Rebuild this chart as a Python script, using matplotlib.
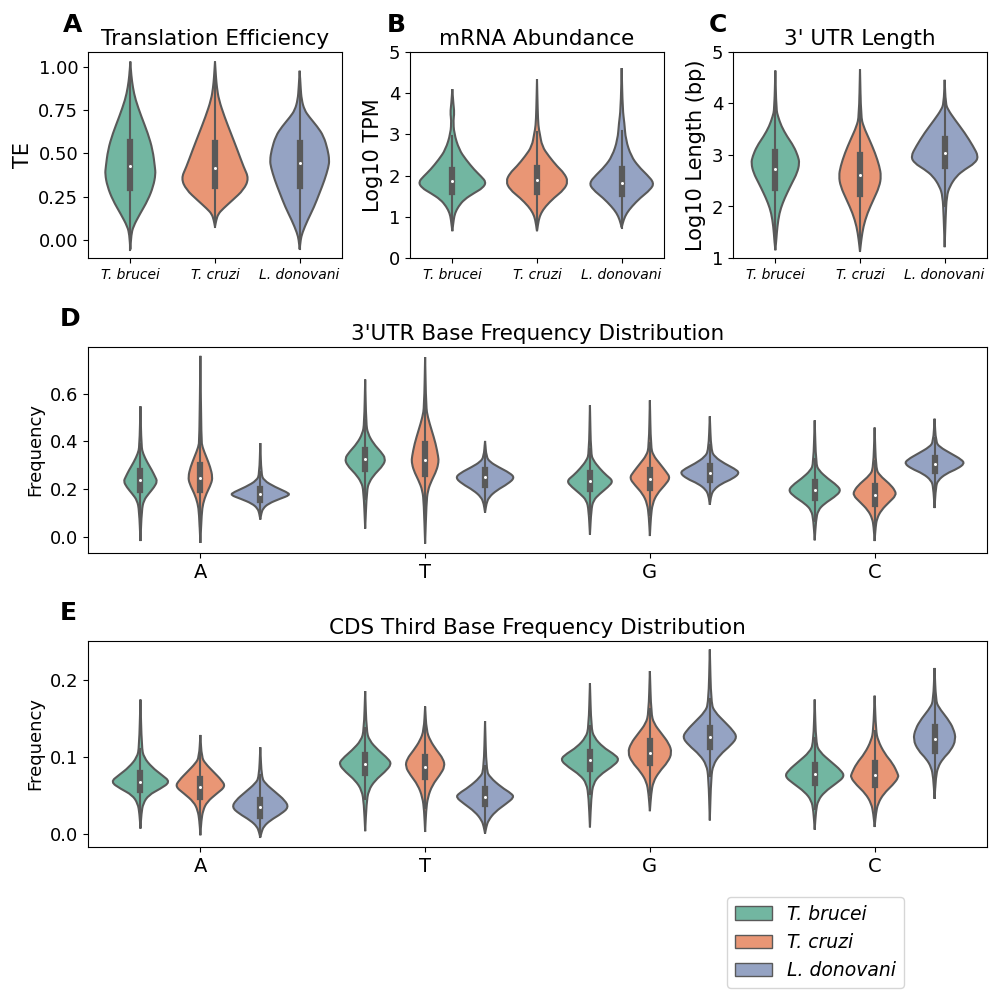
import colorsys
import numpy as np
import matplotlib
matplotlib.use("Agg")
import matplotlib.pyplot as plt
from matplotlib.path import Path
from matplotlib.patches import PathPatch, Patch
from matplotlib.colors import to_rgb, rgb2hex

species = ["T. brucei", "T. cruzi", "L. donovani"]
bases = ["A", "T", "G", "C"]

# violin outlines: levels (top -> bottom) and relative density
# quartiles are [q1, median, q3]

# --- A: translation efficiency
te_levels = [
    [1.03, 0.95, 0.88, 0.81, 0.71, 0.615, 0.52, 0.42, 0.38, 0.31, 0.23, 0.15, 0.077, 0.03, -0.055],
    [1.03, 0.94, 0.88, 0.81, 0.71, 0.615, 0.52, 0.42, 0.355, 0.29, 0.23, 0.18, 0.15, 0.115, 0.077],
    [0.977, 0.88, 0.81, 0.75, 0.71, 0.655, 0.60, 0.52, 0.46, 0.42, 0.346, 0.27, 0.19, 0.115, 0.04, 0.0, -0.054],
]
te_density = [
    [0, 3, 8, 16, 35, 55, 70, 77, 79, 72, 55, 30, 9, 3, 0],
    [0, 3, 6, 12, 30, 50, 70, 90, 106, 90, 55, 25, 10, 4, 0],
    [0, 3, 6, 15, 30, 55, 75, 88, 93, 90, 78, 62, 45, 25, 8, 3, 0],
]
te_quart = [[0.298, 0.429, 0.567], [0.31, 0.413, 0.558], [0.31, 0.442, 0.558]]

# --- B: mRNA abundance
tpm_levels = [
    [4.10, 3.75, 3.52, 3.35, 3.03, 2.63, 2.39, 2.14, 1.98, 1.84, 1.70, 1.58, 1.42, 1.25, 1.09, 0.93, 0.65],
    [4.34, 3.6, 3.2, 3.03, 2.71, 2.47, 2.22, 2.06, 1.86, 1.66, 1.46, 1.25, 1.09, 0.93, 0.65],
    [4.61, 3.6, 3.28, 2.87, 2.47, 2.22, 2.02, 1.82, 1.66, 1.46, 1.25, 1.09, 0.93, 0.74],
]
tpm_density = [
    [0, 3, 6, 3, 5, 20, 40, 65, 85, 100, 90, 65, 35, 18, 8, 4, 0],
    [0, 2, 4, 8, 15, 35, 60, 80, 92, 80, 50, 25, 12, 5, 0],
    [0, 3, 8, 12, 28, 50, 75, 96, 85, 55, 30, 15, 6, 0],
]
tpm_quart = [[1.60, 1.88, 2.14], [1.59, 1.89, 2.18], [1.55, 1.83, 2.16]]

# --- C: 3' UTR length
utr_levels = [
    [4.64, 3.88, 3.75, 3.56, 3.36, 3.17, 2.97, 2.84, 2.65, 2.46, 2.26, 2.07, 1.87, 1.61, 1.36, 1.15],
    [4.66, 3.75, 3.56, 3.30, 3.04, 2.78, 2.59, 2.39, 2.13, 1.87, 1.61, 1.36, 1.13],
    [4.46, 4.0, 3.88, 3.69, 3.43, 3.17, 2.97, 2.84, 2.72, 2.59, 2.39, 2.20, 1.81, 1.21],
]
utr_density = [
    [0, 3, 8, 18, 35, 55, 68, 72, 65, 50, 35, 22, 12, 6, 3, 0],
    [0, 3, 10, 28, 45, 58, 63, 58, 40, 22, 10, 4, 0],
    [0, 3, 10, 30, 60, 85, 101, 90, 60, 35, 15, 6, 3, 0],
]
utr_quart = [[2.36, 2.73, 3.06], [2.24, 2.62, 3.0], [2.79, 3.03, 3.31]]

# --- D: 3'UTR base frequency (order: A x3 species, T x3, G x3, C x3)
utrbase_levels = [
    [0.547, 0.377, 0.349, 0.314, 0.279, 0.251, 0.233, 0.209, 0.181, 0.153, 0.112, -0.017],
    [0.758, 0.405, 0.377, 0.335, 0.293, 0.251, 0.223, 0.181, 0.14, 0.098, -0.025],
    [0.393, 0.265, 0.237, 0.209, 0.188, 0.176, 0.16, 0.14, 0.119, 0.098, 0.073],
    [0.659, 0.474, 0.433, 0.391, 0.356, 0.328, 0.30, 0.265, 0.23, 0.195, 0.035],
    [0.753, 0.544, 0.502, 0.446, 0.391, 0.335, 0.314, 0.279, 0.237, 0.195, 0.14, -0.028],
    [0.402, 0.335, 0.314, 0.293, 0.268, 0.248, 0.223, 0.195, 0.167, 0.14, 0.102],
    [0.551, 0.349, 0.321, 0.286, 0.258, 0.234, 0.209, 0.181, 0.153, 0.112, 0.01],
    [0.572, 0.377, 0.342, 0.307, 0.272, 0.247, 0.216, 0.181, 0.14, 0.084, 0.004],
    [0.505, 0.363, 0.335, 0.307, 0.286, 0.268, 0.244, 0.223, 0.198, 0.174, 0.135],
    [0.488, 0.307, 0.279, 0.244, 0.216, 0.193, 0.167, 0.14, 0.112, 0.07, -0.014],
    [0.458, 0.286, 0.258, 0.223, 0.195, 0.174, 0.147, 0.112, 0.077, 0.042, -0.017],
    [0.495, 0.398, 0.377, 0.349, 0.324, 0.307, 0.286, 0.265, 0.237, 0.209, 0.121],
]
utrbase_density = [
    [0, 3, 8, 20, 35, 45, 51, 42, 25, 10, 4, 0],
    [0, 3, 6, 18, 30, 37, 33, 18, 8, 4, 0],
    [0, 3, 10, 45, 80, 91, 60, 25, 8, 3, 0],
    [0, 3, 8, 25, 48, 62, 55, 30, 12, 5, 0],
    [0, 3, 8, 20, 32, 40, 41, 35, 20, 8, 4, 0],
    [0, 4, 15, 40, 75, 90, 70, 35, 12, 4, 0],
    [0, 3, 10, 30, 50, 71, 55, 30, 10, 4, 0],
    [0, 3, 10, 30, 50, 62, 45, 22, 8, 3, 0],
    [0, 4, 15, 45, 75, 91, 70, 35, 12, 4, 0],
    [0, 4, 12, 40, 68, 80, 60, 30, 10, 4, 0],
    [0, 4, 15, 45, 62, 65, 45, 20, 7, 3, 0],
    [0, 4, 15, 50, 82, 91, 70, 35, 10, 4, 0],
]
utrbase_quart = [
    [0.198, 0.237, 0.275], [0.198, 0.247, 0.30], [0.156, 0.18, 0.202],
    [0.283, 0.327, 0.366], [0.265, 0.324, 0.388], [0.216, 0.25, 0.282],
    [0.20, 0.236, 0.268], [0.204, 0.244, 0.279], [0.237, 0.266, 0.296],
    [0.165, 0.198, 0.23], [0.14, 0.177, 0.212], [0.275, 0.304, 0.331],
]

# --- E: CDS third base frequency
cds_levels = [
    [0.175, 0.113, 0.100, 0.087, 0.077, 0.068, 0.059, 0.051, 0.040, 0.027, 0.0074],
    [0.129, 0.100, 0.092, 0.081, 0.070, 0.062, 0.053, 0.042, 0.031, 0.018, -0.0013],
    [0.113, 0.074, 0.066, 0.055, 0.044, 0.035, 0.027, 0.018, 0.010, 0.003, -0.004],
    [0.186, 0.135, 0.122, 0.109, 0.098, 0.091, 0.081, 0.070, 0.057, 0.040, 0.004],
    [0.166, 0.135, 0.122, 0.109, 0.098, 0.088, 0.077, 0.064, 0.048, 0.031, 0.003],
    [0.147, 0.083, 0.074, 0.061, 0.053, 0.048, 0.040, 0.029, 0.018, 0.010, 0.001],
    [0.196, 0.139, 0.126, 0.113, 0.105, 0.097, 0.087, 0.077, 0.066, 0.048, 0.009],
    [0.212, 0.157, 0.144, 0.131, 0.118, 0.106, 0.094, 0.081, 0.068, 0.053, 0.030],
    [0.240, 0.170, 0.159, 0.146, 0.135, 0.126, 0.116, 0.103, 0.090, 0.074, 0.018],
    [0.175, 0.118, 0.107, 0.094, 0.083, 0.075, 0.066, 0.055, 0.044, 0.031, 0.006],
    [0.180, 0.135, 0.122, 0.105, 0.092, 0.079, 0.074, 0.064, 0.053, 0.040, 0.027, 0.0095],
    [0.216, 0.174, 0.165, 0.150, 0.137, 0.123, 0.109, 0.098, 0.087, 0.074, 0.046],
]
cds_density = [
    [0, 4, 10, 35, 65, 91, 60, 25, 8, 3, 0],
    [0, 4, 15, 40, 65, 76, 50, 20, 8, 3, 0],
    [0, 4, 15, 45, 75, 86, 65, 30, 10, 4, 0],
    [0, 4, 12, 40, 70, 80, 60, 30, 10, 4, 0],
    [0, 4, 15, 35, 55, 60, 45, 22, 8, 3, 0],
    [0, 4, 15, 50, 80, 88, 65, 30, 10, 4, 0],
    [0, 4, 12, 40, 70, 91, 65, 30, 10, 4, 0],
    [0, 4, 12, 35, 58, 67, 55, 28, 10, 4, 0],
    [0, 4, 15, 45, 70, 83, 65, 30, 10, 4, 0],
    [0, 4, 15, 50, 80, 91, 65, 30, 10, 4, 0],
    [0, 4, 10, 30, 55, 70, 73, 55, 28, 10, 4, 0],
    [0, 4, 12, 40, 58, 65, 50, 25, 10, 4, 0],
]
cds_quart = [
    [0.058, 0.068, 0.079], [0.049, 0.061, 0.072], [0.024, 0.035, 0.045],
    [0.080, 0.091, 0.103], [0.074, 0.087, 0.101], [0.039, 0.048, 0.059],
    [0.085, 0.096, 0.107], [0.093, 0.106, 0.121], [0.113, 0.126, 0.138],
    [0.067, 0.078, 0.090], [0.064, 0.077, 0.092], [0.108, 0.124, 0.139],
]


def desaturate(c, prop=0.75):
    h, l, s = colorsys.rgb_to_hls(*to_rgb(c))
    return colorsys.hls_to_rgb(h, l, s * prop)


palette = [desaturate(c) for c in ["#66c2a5", "#fc8d62", "#8da0cb"]]
lum = min(colorsys.rgb_to_hls(*c)[1] for c in palette) * 0.6
gray = rgb2hex((lum, lum, lum))


def violin_patch(cx, ys, ws, half, color):
    ys = np.asarray(ys, float)
    ws = np.asarray(ws, float) * half
    right = list(zip(cx + ws, ys))
    left = list(zip(cx - ws[::-1], ys[::-1]))
    pts = np.array(right + left)
    m = len(pts)
    mids = (pts + np.roll(pts, -1, axis=0)) / 2
    verts = [mids[-1]]
    codes = [Path.MOVETO]
    for i in range(m):
        verts += [pts[i], mids[i]]
        codes += [Path.CURVE3, Path.CURVE3]
    verts.append(mids[-1])
    codes.append(Path.CLOSEPOLY)
    return PathPatch(Path(verts, codes), facecolor=color, edgecolor=gray, lw=1.5, zorder=1)


def draw_violins(ax, levels, density, quart, centers, colors, half):
    top = max(max(d) for d in density)
    for lv, dn, q, cx, col in zip(levels, density, quart, centers, colors):
        rel = np.array(dn, float) / top
        ax.add_patch(violin_patch(cx, lv, rel, half, col))
        q1, med, q3 = q
        iqr = q3 - q1
        lo = max(q1 - 1.5 * iqr, min(lv))
        hi = min(q3 + 1.5 * iqr, max(lv))
        ax.plot([cx, cx], [lo, hi], color=gray, lw=1.5, zorder=2)
        ax.plot([cx, cx], [q1, q3], color=gray, lw=4.5, zorder=2)
        ax.scatter([cx], [med], s=9, color="white", edgecolor=gray, lw=0.8, zorder=3)


fig = plt.figure(figsize=(10, 9.99), dpi=100)
H = 999.0


def box(x0, y0, x1, y1):
    return [x0 / 1000, 1 - y1 / H, (x1 - x0) / 1000, (y1 - y0) / H]


# top row
top_panels = [
    ("A", box(88, 52, 342, 258), te_levels, te_density, te_quart, "Translation Efficiency", "TE",
     (-0.104, 1.085), [0, 0.25, 0.5, 0.75, 1.0], 63),
    ("B", box(410, 52, 664, 258), tpm_levels, tpm_density, tpm_quart, "mRNA Abundance", "Log10 TPM",
     (0, 5), [0, 1, 2, 3, 4, 5], 387),
    ("C", box(733, 52, 987, 258), utr_levels, utr_density, utr_quart, "3' UTR Length", "Log10 Length (bp)",
     (1, 5), [1, 2, 3, 4, 5], 709),
]
for letter, rect, lv, dn, qt, title, ylab, ylim, yt, lx in top_panels:
    ax = fig.add_axes(rect)
    draw_violins(ax, lv, dn, qt, [0, 1, 2], palette, 0.4)
    ax.set_xlim(-0.5, 2.5)
    ax.set_ylim(*ylim)
    ax.set_yticks(yt)
    if letter == "A":
        ax.set_yticklabels(["%.2f" % v for v in yt])
    ax.set_xticks([0, 1, 2])
    ax.set_xticklabels(species, style="italic", fontsize=10)
    ax.tick_params(axis="y", labelsize=13)
    ax.set_ylabel(ylab, fontsize=15)
    ax.set_title(title, fontsize=15.5, pad=5)
    fig.text(lx / 1000, 1 - 32.5 / H, letter, fontsize=18, fontweight="bold", va="baseline")

# bottom panels with three species per base
offsets = [-0.8 / 3, 0, 0.8 / 3]
centers = [i + o for i in range(4) for o in offsets]
colors12 = [palette[j] for i in range(4) for j in range(3)]

bottom_panels = [
    ("D", box(88, 347, 987, 553), utrbase_levels, utrbase_density, utrbase_quart,
     "3'UTR Base Frequency Distribution", (-0.067, 0.795), [0, 0.2, 0.4, 0.6], 326),
    ("E", box(88, 641, 987, 847), cds_levels, cds_density, cds_quart,
     "CDS Third Base Frequency Distribution", (-0.0165, 0.251), [0, 0.1, 0.2], 620),
]
for letter, rect, lv, dn, qt, title, ylim, yt, ly in bottom_panels:
    ax = fig.add_axes(rect)
    draw_violins(ax, lv, dn, qt, centers, colors12, 0.4 / 3)
    ax.set_xlim(-0.5, 3.5)
    ax.set_ylim(*ylim)
    ax.set_yticks(yt)
    ax.set_xticks(range(4))
    ax.set_xticklabels(bases, fontsize=14)
    ax.tick_params(axis="y", labelsize=13)
    ax.set_ylabel("Frequency", fontsize=13)
    ax.set_title(title, fontsize=15.5, pad=5)
    fig.text(60 / 1000, 1 - ly / H, letter, fontsize=18, fontweight="bold", va="baseline")

handles = [Patch(facecolor=c, edgecolor=gray, lw=1.0) for c in palette]
fig.legend(handles, species, loc="upper left", bbox_to_anchor=(727 / 1000, 1 - 897 / H),
           borderaxespad=0, prop={"style": "italic", "size": 13.5})

fig.savefig("out.png", dpi=100)
